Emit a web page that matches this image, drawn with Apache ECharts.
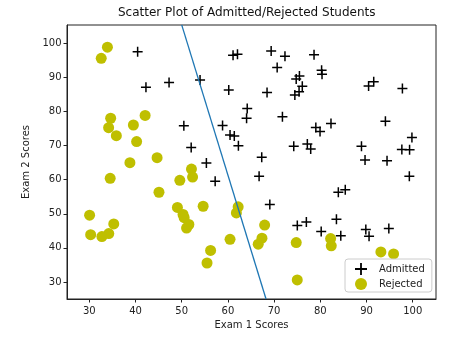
<!DOCTYPE html>
<html>
<head>
<meta charset="utf-8">
<script src="https://cdn.jsdelivr.net/npm/echarts@6/dist/echarts.min.js"></script>
<style>
  html, body { margin: 0; padding: 0; background: #fff; }
  #chart { width: 474px; height: 338px; }
</style>
</head>
<body>
<div id="chart"></div>
<script>
// Exam scores of 100 applicants and whether they were admitted (1) or not (0)
const exam1 = [34.62, 30.29, 35.85, 60.18, 79.03, 45.08, 61.11, 75.02, 76.10, 84.43,
  95.86, 75.01, 82.31, 69.36, 39.54, 53.97, 69.07, 67.95, 70.66, 76.98,
  67.37, 89.68, 50.53, 34.21, 77.92, 62.27, 80.19, 93.11, 61.83, 38.79,
  61.38, 85.40, 52.11, 52.05, 40.24, 54.64, 33.92, 64.18, 74.79, 34.18,
  83.90, 51.55, 94.44, 82.37, 51.05, 62.22, 77.19, 97.77, 62.07, 91.56,
  79.94, 99.27, 90.55, 34.52, 50.29, 49.59, 97.65, 32.58, 74.25, 71.80,
  75.40, 35.29, 56.25, 30.06, 44.67, 66.56, 40.46, 49.07, 80.28, 66.75,
  32.72, 64.04, 72.35, 60.46, 58.84, 99.83, 47.26, 50.46, 60.46, 82.23,
  88.91, 94.83, 67.32, 57.24, 80.37, 68.47, 42.08, 75.48, 78.64, 52.35,
  94.09, 90.45, 55.48, 74.49, 89.85, 83.49, 42.26, 99.32, 55.34, 74.78];
const exam2 = [78.02, 43.89, 72.90, 86.31, 75.34, 56.32, 96.51, 46.55, 87.42, 43.53,
  38.23, 30.60, 76.48, 97.72, 76.04, 89.21, 52.74, 46.68, 92.93, 47.58,
  42.84, 65.80, 48.86, 44.21, 68.97, 69.95, 44.82, 38.80, 50.26, 65.00,
  72.81, 57.05, 63.13, 69.43, 71.17, 52.21, 98.87, 80.91, 41.57, 75.24,
  56.31, 46.86, 65.57, 40.62, 45.82, 52.06, 70.46, 86.73, 96.77, 88.70,
  74.16, 61.00, 43.39, 60.40, 49.80, 59.81, 68.86, 95.60, 69.82, 78.45,
  85.76, 47.02, 39.26, 49.59, 66.45, 41.09, 97.54, 51.88, 92.12, 60.99,
  43.31, 78.03, 96.23, 73.09, 75.86, 72.37, 88.48, 75.81, 42.51, 42.72,
  69.80, 45.69, 66.59, 59.51, 90.96, 85.59, 78.84, 90.42, 96.65, 60.77,
  77.16, 87.51, 35.57, 84.85, 45.36, 48.38, 87.10, 68.78, 64.93, 89.53];
const admitted = [0, 0, 0, 1, 1, 0, 1, 1, 1, 1,
  0, 0, 1, 1, 0, 1, 1, 0, 1, 1,
  0, 1, 0, 0, 1, 1, 1, 0, 0, 0,
  1, 1, 0, 1, 0, 0, 0, 1, 0, 0,
  1, 0, 1, 0, 0, 0, 1, 1, 1, 1,
  1, 1, 1, 0, 0, 0, 1, 0, 1, 1,
  1, 0, 0, 0, 0, 0, 1, 0, 1, 1,
  0, 1, 1, 1, 1, 1, 1, 1, 0, 0,
  1, 1, 1, 1, 1, 1, 0, 1, 1, 0,
  1, 1, 0, 1, 1, 1, 1, 1, 1, 1];

// Decision boundary end points (Exam 1, Exam 2)
const boundaryX = [50.0, 68.25];
const boundaryY = [105.4, 25.0];

const xTicks = [30, 40, 50, 60, 70, 80, 90, 100];
const yTicks = [30, 40, 50, 60, 70, 80, 90, 100];

const admittedPts = [];
const rejectedPts = [];
exam1.forEach((x, i) => {
  (admitted[i] ? admittedPts : rejectedPts).push([x, exam2[i]]);
});
const boundaryPts = boundaryX.map((x, i) => [x, boundaryY[i]]);

const plusPath = 'path://M8.5,0H11.5V8.5H20V11.5H11.5V20H8.5V11.5H0V8.5H8.5Z';
const FONT = 'DejaVu Sans';
const INK = '#222';

const chart = echarts.init(document.getElementById('chart'), null, { renderer: 'canvas' });
chart.setOption({
  animation: false,
  backgroundColor: '#fff',
  textStyle: { fontFamily: FONT },
  title: {
    text: 'Scatter Plot of Admitted/Rejected Students',
    left: 118,
    top: 7,
    padding: 0,
    textStyle: { fontFamily: FONT, fontSize: 12, fontWeight: 'normal', color: '#111' }
  },
  grid: {
    left: 67, right: 38, top: 25, bottom: 39,
    show: true, borderColor: INK, borderWidth: 1, backgroundColor: 'transparent'
  },
  xAxis: {
    type: 'value', min: 25.17, max: 105.04,
    name: 'Exam 1 Scores', nameLocation: 'middle', nameGap: 20,
    nameTextStyle: { fontFamily: FONT, fontSize: 10, color: INK },
    splitLine: { show: false },
    axisLine: { show: true, lineStyle: { color: INK, width: 1 } },
    axisTick: { show: true, length: 3.5, customValues: xTicks, lineStyle: { color: INK } },
    axisLabel: { customValues: xTicks, margin: 7, fontFamily: FONT, fontSize: 10, color: INK }
  },
  yAxis: {
    type: 'value', min: 25.01, max: 105.37,
    name: 'Exam 2 Scores', nameLocation: 'middle', nameGap: 30, nameRotate: 90,
    nameTextStyle: { fontFamily: FONT, fontSize: 10, color: INK },
    splitLine: { show: false },
    axisLine: { show: true, lineStyle: { color: INK, width: 1 } },
    axisTick: { show: true, length: 3.5, customValues: yTicks, lineStyle: { color: INK } },
    axisLabel: { customValues: yTicks, margin: 5.5, fontFamily: FONT, fontSize: 10, color: INK }
  },
  legend: {
    orient: 'vertical',
    left: 345, top: 259,
    padding: [4, 7, 2, 10],
    itemWidth: 26, itemHeight: 12, itemGap: 3,
    backgroundColor: 'rgba(255,255,255,0.8)',
    borderColor: '#ccc', borderWidth: 1, borderRadius: 3,
    textStyle: { fontFamily: FONT, fontSize: 10, color: INK },
    data: [
      { name: 'Admitted', icon: plusPath, itemStyle: { color: '#000' } },
      { name: 'Rejected', icon: 'circle', itemStyle: { color: '#bfbf00' } }
    ]
  },
  series: [
    {
      name: 'Admitted', type: 'scatter', data: admittedPts,
      symbol: plusPath, symbolSize: 10,
      itemStyle: { color: '#000', opacity: 1 }, z: 2
    },
    {
      name: 'Rejected', type: 'scatter', data: rejectedPts,
      symbol: 'circle', symbolSize: 11,
      itemStyle: { color: '#bfbf00', opacity: 1 }, z: 3
    },
    {
      name: 'Decision Boundary', type: 'line', data: boundaryPts,
      showSymbol: false, symbol: 'none', clip: true,
      lineStyle: { color: '#1f77b4', width: 1.3 }, z: 4,
      silent: true
    }
  ]
});
</script>
</body>
</html>
